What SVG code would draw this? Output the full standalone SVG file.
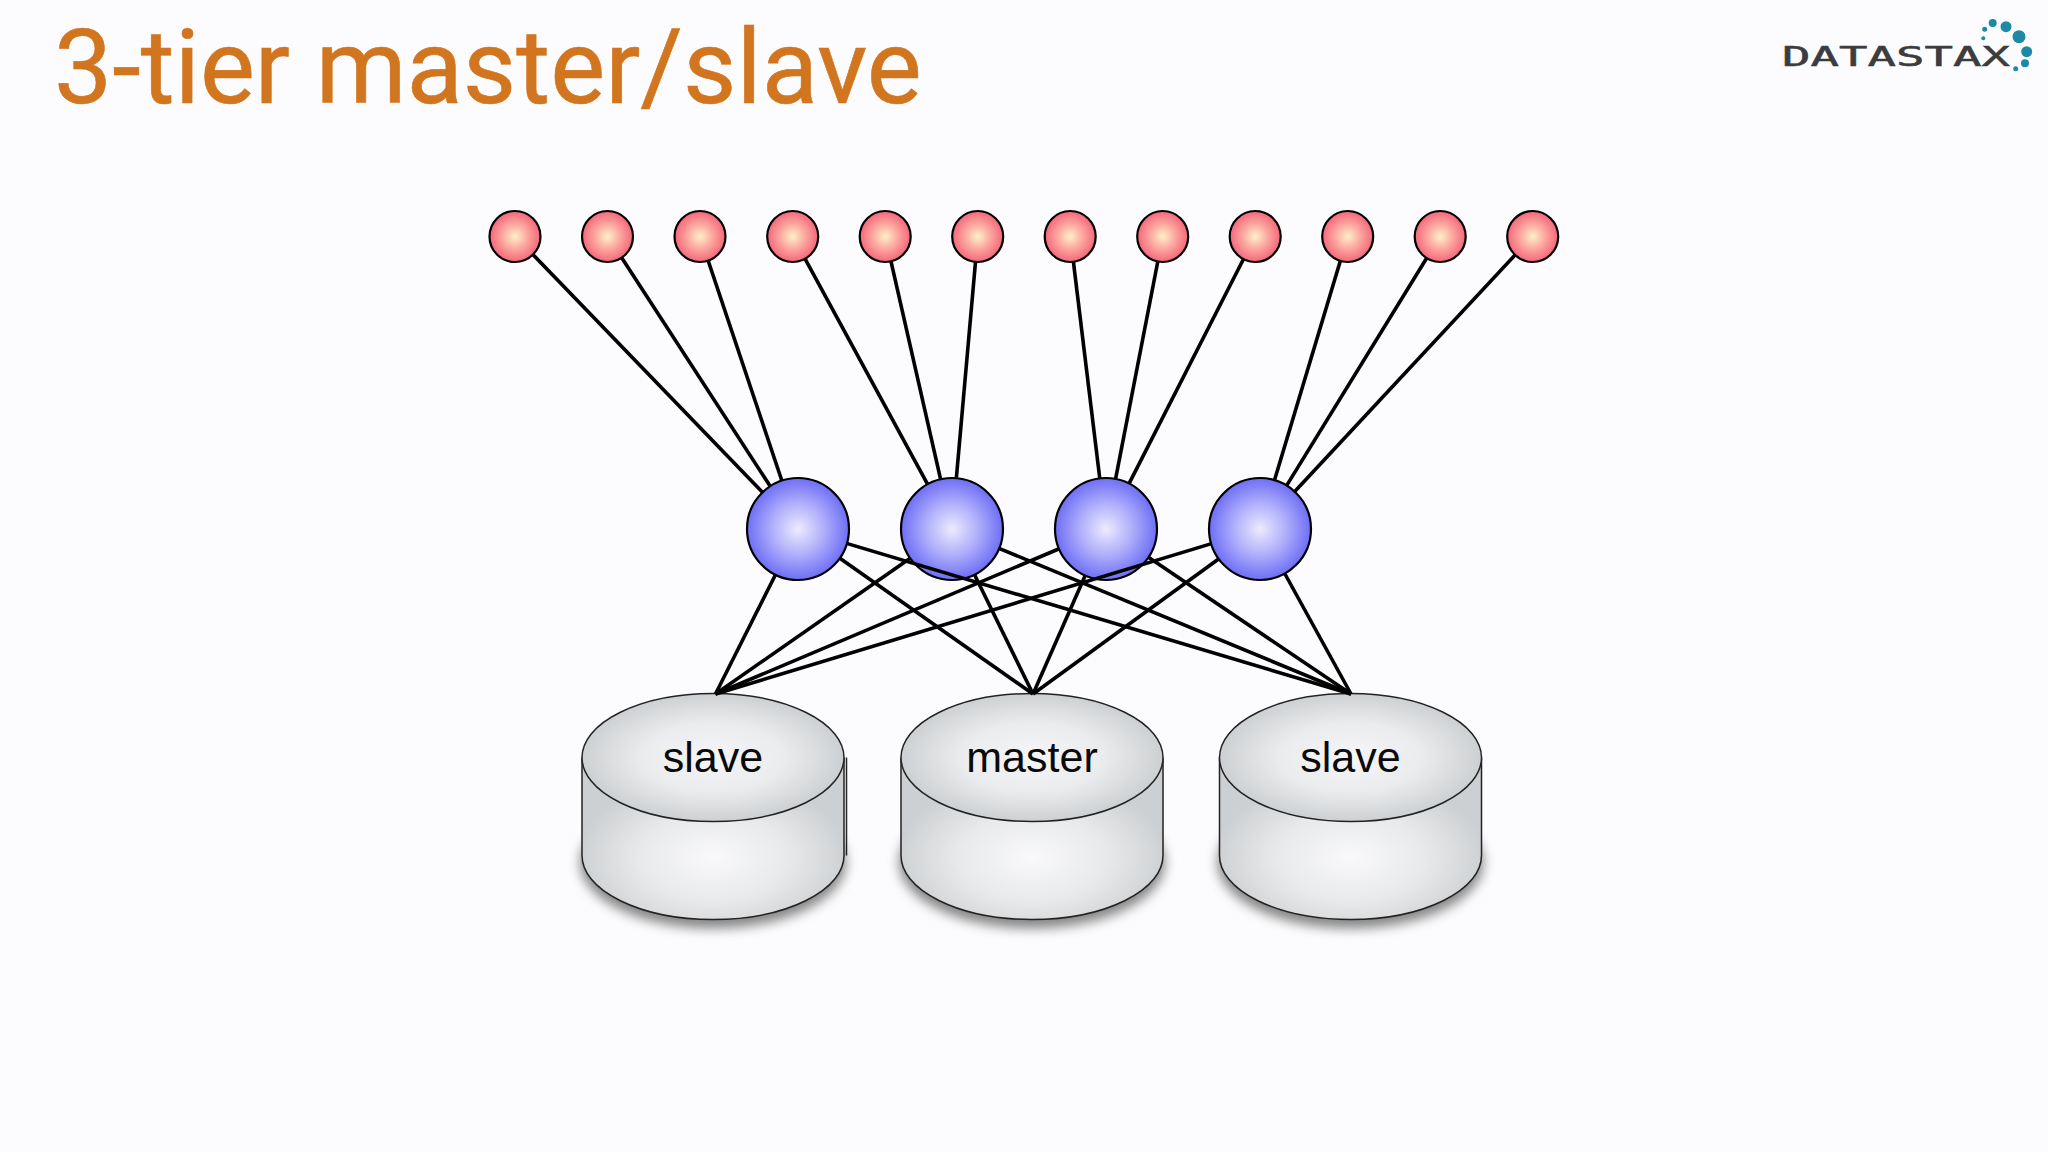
<svg xmlns="http://www.w3.org/2000/svg" width="2048" height="1152" viewBox="0 0 2048 1152">
<style>
.title{font-family:Roboto,"Liberation Sans",sans-serif;font-size:103.600px;fill:#d1751f;stroke:#d1751f;stroke-width:.6}
.db{font-family:"Liberation Sans",Arial,sans-serif;font-size:43px;fill:#0a0a0a;text-anchor:middle}
.logo{font-family:"DejaVu Sans Mono",monospace;font-size:26px;fill:#3c3c3e;stroke:#3c3c3e;stroke-width:.5}
.dot{fill:#1e89a4}
.c line{stroke:#000;stroke-width:3.6;stroke-linecap:butt}
.red{fill:url(#gr);stroke:#000;stroke-width:2.2}
.blue{fill:url(#gb);stroke:#000;stroke-width:2.2}
.edge{fill:none;stroke:#222;stroke-width:1.5}
</style>
<defs>
<radialGradient id="gr"><stop offset="0" stop-color="#fff0c8"/><stop offset=".5" stop-color="#fca69f"/><stop offset="1" stop-color="#f4667a"/></radialGradient>
<radialGradient id="gb"><stop offset="0" stop-color="#ecebfd"/><stop offset=".5" stop-color="#b0b0fb"/><stop offset="1" stop-color="#6e6ef6"/></radialGradient>
<radialGradient id="gt" cx=".5" cy=".5" r=".5"><stop offset="0" stop-color="#f6f6f8"/><stop offset=".55" stop-color="#eaebed"/><stop offset="1" stop-color="#cdd0d2"/></radialGradient>
<radialGradient id="gs" gradientUnits="userSpaceOnUse" cx="0" cy="100" r="135" gradientTransform="translate(0 40) scale(1 .6)"><stop offset="0" stop-color="#f9f9fb"/><stop offset=".55" stop-color="#e8e9eb"/><stop offset="1" stop-color="#cdd0d2"/></radialGradient>
<filter id="bl" x="-20%" y="-50%" width="140%" height="200%"><feGaussianBlur stdDeviation="6"/></filter>
<g id="cyl">
<ellipse cx="0" cy="105" rx="133" ry="66" fill="#555" opacity=".7" filter="url(#bl)"/>
<path d="M-131 0V98A131 64 0 0 0 131 98V0Z" fill="url(#gs)"/>
<path class="edge" d="M-131 0V98A131 64 0 0 0 131 98V0"/>
<ellipse cx="0" cy="0" rx="131" ry="64" class="edge" style="fill:url(#gt)"/>
</g>
</defs>
<rect width="2048" height="1152" fill="#fcfcfe"/>
<text class="title" x="54" y="103">3-tier master/slave</text>
<g id="logo">
<text class="logo" x="1782" y="65.500" textLength="228" lengthAdjust="spacingAndGlyphs">DATASTAX</text>
<circle class="dot" cx="1992.700" cy="23" r="4"/><circle class="dot" cx="2006" cy="26.700" r="5.500"/><circle class="dot" cx="2019" cy="36.700" r="6.500"/><circle class="dot" cx="2026.700" cy="51.700" r="5.500"/><circle class="dot" cx="2025" cy="63.300" r="4"/><circle class="dot" cx="2015.700" cy="68.700" r="2.500"/><circle class="dot" cx="1984.700" cy="29.300" r="2.500"/><circle class="dot" cx="1983.300" cy="38.300" r="2"/>
</g>
<g id="db-slave-1" transform="translate(713 757.500)"><use href="#cyl"/><path class="edge" d="M133.500 0V98"/><text class="db" x="0" y="14.500">slave</text></g>
<g id="db-master" transform="translate(1032 757.500)"><use href="#cyl"/><text class="db" x="0" y="14.500">master</text></g>
<g id="db-slave-2" transform="translate(1350.500 757.500)"><use href="#cyl"/><text class="db" x="0" y="14.500">slave</text></g>
<g id="client-1"><circle class="red" cx="515" cy="236.500" r="25.500"/></g>
<g id="client-2"><circle class="red" cx="607.500" cy="236.500" r="25.500"/></g>
<g id="client-3"><circle class="red" cx="700" cy="236.500" r="25.500"/></g>
<g id="client-4"><circle class="red" cx="792.700" cy="236.500" r="25.500"/></g>
<g id="client-5"><circle class="red" cx="885.200" cy="236.500" r="25.500"/></g>
<g id="client-6"><circle class="red" cx="977.700" cy="236.500" r="25.500"/></g>
<g id="client-7"><circle class="red" cx="1070.200" cy="236.500" r="25.500"/></g>
<g id="client-8"><circle class="red" cx="1162.700" cy="236.500" r="25.500"/></g>
<g id="client-9"><circle class="red" cx="1255.200" cy="236.500" r="25.500"/></g>
<g id="client-10"><circle class="red" cx="1347.700" cy="236.500" r="25.500"/></g>
<g id="client-11"><circle class="red" cx="1440.200" cy="236.500" r="25.500"/></g>
<g id="client-12"><circle class="red" cx="1532.700" cy="236.500" r="25.500"/></g>
<g id="app-1"><circle class="blue" cx="798" cy="529" r="51"/></g>
<g id="app-2"><circle class="blue" cx="952" cy="529" r="51"/></g>
<g id="app-3"><circle class="blue" cx="1106" cy="529" r="51"/></g>
<g id="app-4"><circle class="blue" cx="1260" cy="529" r="51"/></g>
<g id="connectors" class="c">
<line x1="533.100" y1="254.700" x2="762.200" y2="492"/>
<line x1="621.700" y1="257.800" x2="769.900" y2="485.800"/>
<line x1="708.200" y1="260.700" x2="781.700" y2="480.200"/>
<line x1="805.100" y1="258.800" x2="927.400" y2="483.800"/>
<line x1="891" y1="261.300" x2="940.500" y2="478.800"/>
<line x1="975.500" y1="261.900" x2="956.400" y2="477.700"/>
<line x1="1073.400" y1="261.800" x2="1099.700" y2="477.900"/>
<line x1="1157.800" y1="261.500" x2="1115.700" y2="478.400"/>
<line x1="1243.400" y1="259.200" x2="1129.300" y2="483.100"/>
<line x1="1340.300" y1="260.900" x2="1274.700" y2="479.600"/>
<line x1="1426.600" y1="258.200" x2="1286.900" y2="485.100"/>
<line x1="1515" y1="255.100" x2="1295" y2="491.200"/>
<line x1="775.200" y1="575.200" x2="715.500" y2="694"/>
<line x1="840.200" y1="558.500" x2="1033" y2="694"/>
<line x1="847.400" y1="543.600" x2="1351" y2="694"/>
<line x1="909.800" y1="558.500" x2="715.500" y2="694"/>
<line x1="974.800" y1="575.200" x2="1033" y2="694"/>
<line x1="999.600" y1="548.600" x2="1351" y2="694"/>
<line x1="1058.600" y1="549" x2="715.500" y2="694"/>
<line x1="1085" y1="576.100" x2="1033" y2="694"/>
<line x1="1148.800" y1="557.600" x2="1351" y2="694"/>
<line x1="1210.700" y1="543.900" x2="715.500" y2="694"/>
<line x1="1218.200" y1="559.200" x2="1033" y2="694"/>
<line x1="1285" y1="574" x2="1351" y2="694"/>
</g>
</svg>
